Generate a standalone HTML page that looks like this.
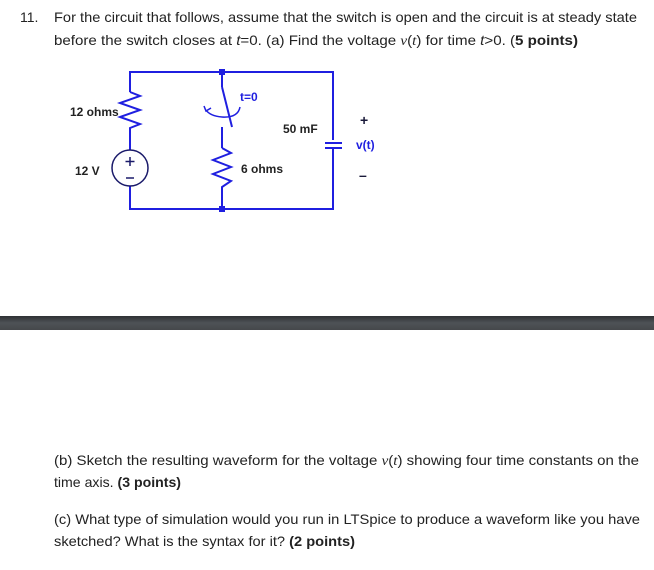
<!DOCTYPE html>
<html><head><style>html,body{margin:0;padding:0;background:#fff;}</style></head>
<body>
<svg width="654" height="565" xmlns="http://www.w3.org/2000/svg" font-family="Liberation Sans, sans-serif">
<g font-size="14" fill="#222">
<text x="20" y="22">11.</text>
<text x="54" y="22" textLength="583" lengthAdjust="spacingAndGlyphs">For the circuit that follows, assume that the switch is open and the circuit is at steady state</text>
<text x="54" y="45" textLength="524" lengthAdjust="spacingAndGlyphs">before the switch closes at <tspan font-style="italic">t</tspan>=0. (a) Find the voltage <tspan font-family="Liberation Serif" font-style="italic">v</tspan>(<tspan font-family="Liberation Serif" font-style="italic">t</tspan>) for time <tspan font-style="italic">t</tspan>&gt;0. (<tspan font-weight="bold">5 points)</tspan></text>
<text x="54" y="465" textLength="585" lengthAdjust="spacingAndGlyphs">(b) Sketch the resulting waveform for the voltage <tspan font-family="Liberation Serif" font-style="italic">v</tspan>(<tspan font-family="Liberation Serif" font-style="italic">t</tspan>) showing four time constants on the</text>
<text x="54" y="487" textLength="127" lengthAdjust="spacingAndGlyphs">time axis. <tspan font-weight="bold">(3 points)</tspan></text>
<text x="54" y="524" textLength="586" lengthAdjust="spacingAndGlyphs">(c) What type of simulation would you run in LTSpice to produce a waveform like you have</text>
<text x="54" y="546" textLength="301" lengthAdjust="spacingAndGlyphs">sketched? What is the syntax for it? <tspan font-weight="bold">(2 points)</tspan></text>
</g>
<defs><linearGradient id="g" x1="0" y1="0" x2="0" y2="1"><stop offset="0" stop-color="#2e3134"/><stop offset="0.5" stop-color="#4e5256"/><stop offset="1" stop-color="#45484b"/></linearGradient></defs>
<rect x="0" y="316" width="654" height="14" fill="url(#g)"/>
<g stroke="#1f1fe0" stroke-width="2" fill="none">
<polyline points="130,92 130,72 333,72 333,140"/>
<polyline points="333,148 333,209 130,209 130,186"/>
<polyline points="130,92 140,96 120,103 140,110 120,117 140,124 130,128 130,150"/>
<line x1="222" y1="72" x2="222" y2="87"/>
<line x1="222" y1="87" x2="232" y2="127"/>
<line x1="222" y1="127" x2="222" y2="148"/>
<polyline points="222,148 231,153 213,160 231,167 213,174 231,181 222,187 222,209"/>
<line x1="325" y1="143" x2="342" y2="143"/>
<line x1="325" y1="148" x2="342" y2="148"/>
<path d="M240,107 Q238,118 222,117 Q210,116 206,110" stroke-width="1.5"/>
<path d="M204,106 L206,111 L211,108" stroke-width="1.5"/>
</g>
<g stroke="#1a1a6a" stroke-width="1.5" fill="none">
<circle cx="130" cy="168" r="18"/>
<line x1="130" y1="157" x2="130" y2="166"/>
<line x1="125.5" y1="161.5" x2="134.5" y2="161.5"/>
<line x1="126" y1="178" x2="134" y2="178"/>
</g>
<rect x="219" y="69" width="6" height="6" fill="#1f1fe0"/>
<rect x="219" y="206" width="6" height="6" fill="#1f1fe0"/>
<g font-size="12" font-weight="bold" fill="#222">
<text x="70" y="116">12 ohms</text>
<text x="75" y="175">12 V</text>
<text x="283" y="133">50 mF</text>
<text x="241" y="173">6 ohms</text>
</g>
<g font-size="12" font-weight="bold" fill="#1f1fe0">
<text x="240" y="101">t=0</text>
<text x="356" y="149">v(t)</text>
</g>
<g font-size="14" font-weight="bold" fill="#1a1a3a">
<text x="360" y="125">+</text>
<text x="359" y="180">–</text>
</g>
</svg>
</body></html>
